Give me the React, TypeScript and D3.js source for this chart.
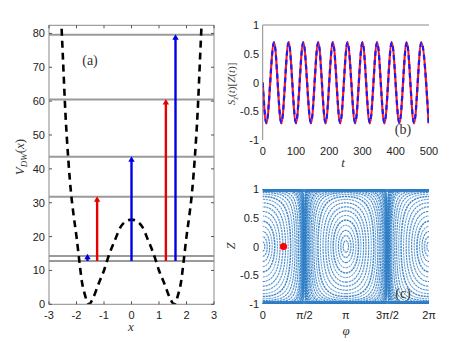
import React from "react";
import * as d3 from "d3";

// ---------- Panel (a) data ----------
const potX = [-2.6, -2.5, -2.4, -2.3, -2.2, -2.1, -2.0, -1.9, -1.8, -1.7, -1.55, -1.4, -1.2, -1.0, -0.8, -0.6, -0.4, -0.2, 0,
  0.2, 0.4, 0.6, 0.8, 1.0, 1.2, 1.4, 1.55, 1.7, 1.8, 1.9, 2.0, 2.1, 2.2, 2.3, 2.4, 2.5, 2.6];
const potV = [92, 74, 56, 43, 33, 26, 20, 13, 6.5, 3, 0, 1.8, 6, 10, 15, 19, 22.8, 24.5, 25,
  24.5, 22.8, 19, 15, 10, 6, 1.8, 0, 3, 6.5, 13, 20, 26, 33, 43, 56, 74, 92];
const energyLevels = [12.8, 14.3, 31.8, 43.6, 60.5, 79.6];
const arrowX = [-1.6, -1.25, 0, 1.25, 1.6];
const arrowFrom = [12.8, 12.8, 12.8, 12.8, 12.8];
const arrowTo = [14.8, 31.8, 43.6, 60.5, 79.6];
const arrowColor = ["#0000e6", "#e60000", "#0000e6", "#e60000", "#0000e6"];
const aYTicks = [0, 10, 20, 30, 40, 50, 60, 70, 80];
const aXTicks = [-3, -2, -1, 0, 1, 2, 3];

// ---------- Panel (b) data ----------
const sTimes = [0, 11, 34, 56, 78, 100, 122, 145, 167, 189, 211, 233, 255, 278, 300, 322, 344, 366, 388, 411, 433, 455, 477, 499];
const sValues = [0, -0.71, 0.7, -0.71, 0.7, -0.71, 0.7, -0.71, 0.7, -0.71, 0.7, -0.71, 0.7, -0.71, 0.7, -0.71, 0.7, -0.71, 0.7, -0.71, 0.7, -0.71, 0.7, -0.71];
const zTimes = [0, 11, 34, 56, 78, 100, 122, 145, 167, 189, 211, 233, 255, 278, 300, 322, 344, 366, 388, 411, 433, 455, 477, 499];
const zValues = [0, -0.7, 0.7, -0.7, 0.7, -0.7, 0.7, -0.7, 0.7, -0.7, 0.7, -0.7, 0.7, -0.7, 0.7, -0.7, 0.7, -0.7, 0.7, -0.7, 0.7, -0.7, 0.7, -0.7];
const bYTicks = [-1, -0.5, 0, 0.5, 1];
const bXTicks = [0, 100, 200, 300, 400, 500];

// ---------- Panel (c) data ----------
const piOrbitAmps = [0.1, 0.19, 0.28, 0.37, 0.46, 0.54, 0.62, 0.69, 0.76, 0.82, 0.87, 0.905, 0.935, 0.955, 0.97, 0.98,
  0.987, 0.992, 0.995, 0.997, 0.998, 0.9988, 0.9993, 0.9996, 0.9998, 0.99992];
const zeroOrbitAmps = [0.08, 0.17, 0.26, 0.35, 0.44, 0.53, 0.61, 0.69, 0.76, 0.82, 0.87, 0.91, 0.94, 0.962, 0.977,
  0.987, 0.992, 0.995, 0.997, 0.998, 0.9988, 0.9993, 0.9996, 0.9998, 0.99992];
const orbitCenters = [0, Math.PI, 2 * Math.PI];
const markerPhi = [Math.PI / 4];
const markerZ = [0];
const cXTicks = [0, Math.PI / 2, Math.PI, 1.5 * Math.PI, 2 * Math.PI];
const cXLabels = ["0", "π/2", "π", "3π/2", "2π"];
const cYTicks = [-1, -0.5, 0, 0.5, 1];

const SANS = "'Liberation Sans', Arial, sans-serif";
const SERIF = "'Liberation Serif', 'Times New Roman', serif";

function orbitPoints(amp: number, center: number): [number, number][] {
  const c = Math.sqrt(1 - amp * amp);
  const n = 120;
  const right: [number, number][] = [];
  const left: [number, number][] = [];
  for (let i = 0; i <= n; i++) {
    const th = -Math.PI / 2 + (Math.PI * i) / n;
    const z = amp * Math.sin(th);
    const r = Math.min(1, c / Math.sqrt(Math.max(1e-12, 1 - z * z)));
    const dl = Math.acos(r);
    right.push([center + dl, z]);
    left.push([center - dl, z]);
  }
  return right.concat(left.reverse());
}

export default function App() {
  const xA = d3.scaleLinear().domain([-3, 3]).range([49, 214]);
  const yA = d3.scaleLinear().domain([0, 82.4]).range([304.3, 25.3]);
  const xB = d3.scaleLinear().domain([0, 500]).range([262.7, 429]);
  const yB = d3.scaleLinear().domain([-1, 1]).range([140, 25]);
  const xC = d3.scaleLinear().domain([0, 2 * Math.PI]).range([262.7, 429]);
  const yC = d3.scaleLinear().domain([-1, 1]).range([304, 189]);

  const potLine = d3.line<number>()
    .x((_, i) => xA(potX[i]))
    .y((d) => yA(d))
    .curve(d3.curveMonotoneX);

  const sLine = d3.line<number>()
    .x((_, i) => xB(sTimes[i]))
    .y((d) => yB(d))
    .curve(d3.curveMonotoneX);
  const zLine = d3.line<number>()
    .x((_, i) => xB(zTimes[i]))
    .y((d) => yB(d))
    .curve(d3.curveMonotoneX);

  const orbitLine = d3.line<[number, number]>()
    .x((d) => xC(d[0]))
    .y((d) => yC(d[1]))
    .curve(d3.curveLinearClosed);

  const [ax0, ax1] = xA.range();
  const [ay0, ay1] = [yA(0), yA(82.4)];
  const tickCol = "#555";

  const orbits: { d: string; w: number; o: number }[] = [];
  orbitCenters.forEach((cen) => {
    const amps = cen === Math.PI ? piOrbitAmps : zeroOrbitAmps;
    amps.forEach((a, i) => {
      orbits.push({
        d: orbitLine(orbitPoints(a, cen)) || "",
        w: i % 3 === 1 ? 1.5 : 1.1,
        o: i % 2 === 0 ? 0.9 : 0.7,
      });
    });
  });

  return (
    <svg width={474} height={342} style={{ display: "block", position: "absolute", left: 0, top: 0, background: "#fff" }}>
      <defs>
        <clipPath id="clipA">
          <rect x={ax0} y={ay1} width={ax1 - ax0} height={ay0 - ay1} />
        </clipPath>
        <clipPath id="clipB">
          <rect x={xB(0)} y={yB(1)} width={xB(500) - xB(0)} height={yB(-1) - yB(1)} />
        </clipPath>
        <clipPath id="clipC">
          <rect x={xC(0)} y={yC(1)} width={xC(2 * Math.PI) - xC(0)} height={yC(-1) - yC(1)} />
        </clipPath>
      </defs>

      {/* ---------------- Panel (a) ---------------- */}
      <g>
        {energyLevels.map((e, i) => (
          <line key={i} x1={ax0} x2={ax1} y1={yA(e)} y2={yA(e)} stroke="#9a9a9a" strokeWidth={2} />
        ))}
        <g clipPath="url(#clipA)">
          <path d={potLine(potV) || ""} fill="none" stroke="#000" strokeWidth={2.6} strokeDasharray="7 5" />
        </g>
        {arrowX.map((x, i) => {
          const px = xA(x);
          const y0 = yA(arrowFrom[i]);
          const y1 = yA(arrowTo[i]);
          return (
            <g key={i}>
              <line x1={px} x2={px} y1={y0} y2={y1 + 4} stroke={arrowColor[i]} strokeWidth={2.4} />
              <path d={`M${px - 3.2},${y1 + 5} L${px},${y1 - 0.5} L${px + 3.2},${y1 + 5} Z`} fill={arrowColor[i]} />
            </g>
          );
        })}
        <rect x={ax0} y={ay1} width={ax1 - ax0} height={ay0 - ay1} fill="none" stroke="#8a8a8a" strokeWidth={1} />
        {aYTicks.map((t) => (
          <g key={t}>
            <line x1={ax0} x2={ax0 + 3} y1={yA(t)} y2={yA(t)} stroke={tickCol} />
            <line x1={ax1 - 3} x2={ax1} y1={yA(t)} y2={yA(t)} stroke={tickCol} />
            <text x={45} y={yA(t) + 4} textAnchor="end" fontSize={11} fontFamily={SANS} fill="#222">{t}</text>
          </g>
        ))}
        {aXTicks.map((t) => (
          <g key={t}>
            <line x1={xA(t)} x2={xA(t)} y1={ay0} y2={ay0 - 3} stroke={tickCol} />
            <line x1={xA(t)} x2={xA(t)} y1={ay1} y2={ay1 + 3} stroke={tickCol} />
            <text x={xA(t)} y={318.5} textAnchor="middle" fontSize={11} fontFamily={SANS} fill="#222">{t}</text>
          </g>
        ))}
        <text x={131} y={331} textAnchor="middle" fontSize={13} fontFamily={SERIF} fontStyle="italic" fill="#333">x</text>
        <text transform="translate(24,157) rotate(-90)" textAnchor="middle" fontSize={13} fontFamily={SERIF} fill="#333">
          <tspan fontStyle="italic">V</tspan>
          <tspan fontStyle="italic" fontSize={9} dy={3}>DW</tspan>
          <tspan dy={-3}>(</tspan>
          <tspan fontStyle="italic">x</tspan>
          <tspan>)</tspan>
        </text>
        <text x={90} y={65} textAnchor="middle" fontSize={14} fontFamily={SERIF} fill="#333">(a)</text>
      </g>

      {/* ---------------- Panel (b) ---------------- */}
      <g>
        <g clipPath="url(#clipB)">
          <path d={sLine(sValues) || ""} fill="none" stroke="#ff1a1a" strokeWidth={2.2} />
          <path d={zLine(zValues) || ""} fill="none" stroke="#1a1aff" strokeWidth={2.2} strokeDasharray="5 4" />
        </g>
        <line x1={xB(0)} x2={xB(500)} y1={yB(1)} y2={yB(1)} stroke="#8a8a8a" strokeWidth={1} />
        <line x1={xB(0)} x2={xB(0)} y1={yB(1)} y2={yB(-1)} stroke="#8a8a8a" strokeWidth={1} />
        {bYTicks.map((t) => (
          <text key={t} x={259} y={yB(t) + 4} textAnchor="end" fontSize={11} fontFamily={SANS} fill="#222">{t}</text>
        ))}
        {bXTicks.map((t) => (
          <text key={t} x={xB(t)} y={155} textAnchor="middle" fontSize={11} fontFamily={SANS} fill="#222">{t}</text>
        ))}
        <text x={343} y={167} textAnchor="middle" fontSize={13} fontFamily={SERIF} fontStyle="italic" fill="#333">t</text>
        <text transform="translate(235,84) rotate(-90)" textAnchor="middle" fontSize={11} fontFamily={SERIF} fill="#444">
          <tspan fontStyle="italic">S</tspan>
          <tspan fontStyle="italic" fontSize={7.5} dy={2.5}>z</tspan>
          <tspan dy={-2.5}>(</tspan>
          <tspan fontStyle="italic">t</tspan>
          <tspan>)[</tspan>
          <tspan fontStyle="italic">Z</tspan>
          <tspan>(</tspan>
          <tspan fontStyle="italic">t</tspan>
          <tspan>)]</tspan>
        </text>
        <text x={403} y={134} textAnchor="middle" fontSize={14} fontFamily={SERIF} fill="#333">(b)</text>
      </g>

      {/* ---------------- Panel (c) ---------------- */}
      <g>
        <g clipPath="url(#clipC)">
          <rect x={xC(0)} y={yC(1)} width={xC(2 * Math.PI) - xC(0)} height={yC(-1) - yC(1)} fill="#fff" />
          {orbits.map((o, i) => (
            <path key={i} d={o.d} fill="none" stroke="#2a7bc4" strokeOpacity={o.o} strokeWidth={o.w} strokeDasharray="2.2 0.7" />
          ))}
          <line x1={xC(0)} x2={xC(2 * Math.PI)} y1={yC(1) + 1.5} y2={yC(1) + 1.5} stroke="#2a7bc4" strokeWidth={3} strokeOpacity={0.9} />
          <line x1={xC(0)} x2={xC(2 * Math.PI)} y1={yC(-1) - 1.5} y2={yC(-1) - 1.5} stroke="#2a7bc4" strokeWidth={3} strokeOpacity={0.9} />
        </g>
        {markerPhi.map((p, i) => (
          <circle key={i} cx={xC(p)} cy={yC(markerZ[i])} r={3.6} fill="#ff0000" />
        ))}
        {cYTicks.map((t) => (
          <text key={t} x={259} y={yC(t) + 4} textAnchor="end" fontSize={11} fontFamily={SANS} fill="#222">{t}</text>
        ))}
        {cXTicks.map((t, i) => (
          <text key={i} x={xC(t)} y={319} textAnchor="middle" fontSize={11} fontFamily={SANS} fill="#222">{cXLabels[i]}</text>
        ))}
        <text x={346} y={335} textAnchor="middle" fontSize={13} fontFamily={SERIF} fontStyle="italic" fill="#333">φ</text>
        <text transform="translate(235,246) rotate(-90)" textAnchor="middle" fontSize={12} fontFamily={SERIF} fontStyle="italic" fill="#333">Z</text>
        <text x={403} y={298} textAnchor="middle" fontSize={14} fontFamily={SERIF} fill="#333">(c)</text>
      </g>
    </svg>
  );
}
